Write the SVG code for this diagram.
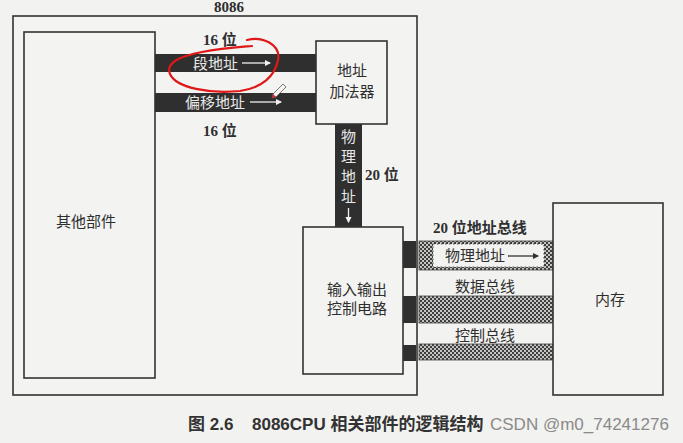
<svg xmlns="http://www.w3.org/2000/svg" width="683" height="443" viewBox="0 0 683 443">
<defs>
<pattern id="hatch" patternUnits="userSpaceOnUse" width="4" height="4">
<rect width="4" height="4" fill="#c4c4c2"/>
<rect x="0" y="0" width="2" height="2" fill="#3e3e3e"/>
<rect x="2" y="2" width="2" height="2" fill="#3e3e3e"/>
</pattern>
<marker id="ah" viewBox="0 0 6 6" refX="5" refY="3" markerWidth="5" markerHeight="5" orient="auto">
<path d="M0,0 L6,3 L0,6 z" fill="#f0f0f0"/>
</marker>
<marker id="ahd" viewBox="0 0 6 6" refX="5" refY="3" markerWidth="5" markerHeight="5" orient="auto">
<path d="M0,0 L6,3 L0,6 z" fill="#333"/>
</marker>
</defs>
<style>
.box{fill:#f3f3f1;stroke:#333;stroke-width:1.6}
.bar{fill:#2f2f2f}
.hb{fill:url(#hatch);stroke:#444;stroke-width:0.8}
.t{font-family:"Liberation Serif","Noto Sans CJK SC",serif;font-size:15px;fill:#2e2e2e;text-anchor:middle}
.tb{font-family:"Liberation Serif","Noto Sans CJK SC",serif;font-size:15px;font-weight:bold;fill:#2e2e2e}
.w{font-family:"Noto Sans CJK SC",sans-serif;font-size:15px;fill:#e8e8e8}
.cap{font-family:"Liberation Sans","Noto Sans CJK SC",sans-serif;font-size:17px;font-weight:bold;fill:#333}
.wm{font-family:"Liberation Sans",sans-serif;font-size:17px;fill:#8a8a8a}
</style>
<rect width="683" height="443" fill="#f2f2f0"/>
<text class="tb" x="229" y="12" text-anchor="middle">8086</text>
<g id="cpu"><rect class="box" x="13" y="16" width="404" height="379" fill="none"/></g>
<g id="other"><rect class="box" x="24" y="32" width="131" height="346"/><text class="t" x="86" y="227">其他部件</text></g>
<g id="connectors">
<rect class="bar" x="155" y="54" width="161" height="18"/>
<rect class="bar" x="155" y="93" width="161" height="19"/>
<text class="w" x="193" y="69">段地址</text>
<line x1="242" y1="63" x2="270" y2="63" stroke="#f0f0f0" stroke-width="1.3" marker-end="url(#ah)"/>
<text class="w" x="185" y="108">偏移地址</text>
<line x1="250" y1="102" x2="281" y2="102" stroke="#f0f0f0" stroke-width="1.3" marker-end="url(#ah)"/>
<text class="tb" x="203" y="45">16 位</text>
<text class="tb" x="203" y="136">16 位</text>
<rect class="bar" x="335" y="124" width="27" height="103"/>
<text class="w" x="348.5" y="142" text-anchor="middle">物</text>
<text class="w" x="348.5" y="162" text-anchor="middle">理</text>
<text class="w" x="348.5" y="182" text-anchor="middle">地</text>
<text class="w" x="348.5" y="202" text-anchor="middle">址</text>
<line x1="348.5" y1="208" x2="348.5" y2="222" stroke="#f0f0f0" stroke-width="1.3" marker-end="url(#ah)"/>
<text class="tb" x="365" y="180">20 位</text>
<rect class="bar" x="403" y="241" width="13" height="27"/>
<rect class="bar" x="403" y="296" width="13" height="27"/>
<rect class="bar" x="403" y="345" width="13" height="16"/>
<rect class="hb" x="419" y="241" width="134" height="29"/>
<rect x="433" y="244" width="111" height="23" fill="#f2f2f0" stroke="#444" stroke-width="1" stroke-dasharray="1.5 2.5"/>
<text class="t" x="475" y="261">物理地址</text>
<line x1="508" y1="256" x2="538" y2="256" stroke="#333" stroke-width="1.3" marker-end="url(#ahd)"/>
<rect class="hb" x="419" y="296" width="134" height="27"/>
<rect class="hb" x="419" y="344" width="134" height="16"/>
<text class="tb" x="433" y="233">20 位地址总线</text>
<text class="t" x="485" y="292">数据总线</text>
<text class="t" x="485" y="341">控制总线</text>
</g>
<g id="adder"><rect class="box" x="316" y="41" width="71" height="83"/><text class="t" x="352" y="76">地址</text><text class="t" x="352" y="97">加法器</text></g>
<g id="io"><rect class="box" x="303" y="227" width="100" height="147"/><text class="t" x="357" y="295">输入输出</text><text class="t" x="357" y="314">控制电路</text></g>
<g id="memory"><rect class="box" x="553" y="203" width="110" height="192"/><text class="t" x="610" y="305">内存</text></g>
<path d="M247,40 C262,36 281,44 278,60 C275,76 262,88 240,91 C210,94 176,88 170,74 C165,62 182,56 202,52 C222,48 240,47 252,46" fill="none" stroke="#e01818" stroke-width="2.2" stroke-linecap="round"/>
<g id="cursor"><path d="M283,84 L286,87 L276,97 L272,98 L273,94 Z" fill="#f4f4f4" stroke="#555" stroke-width="0.8"/><path d="M273,94 L276,97 L272,98 Z" fill="#d02030"/></g>
<text x="188" y="430" class="cap">图 2.6</text>
<text x="252" y="430" class="cap">8086CPU 相关部件的逻辑结构</text>
<text x="490" y="430" class="wm">CSDN @m0_74241276</text>
</svg>
